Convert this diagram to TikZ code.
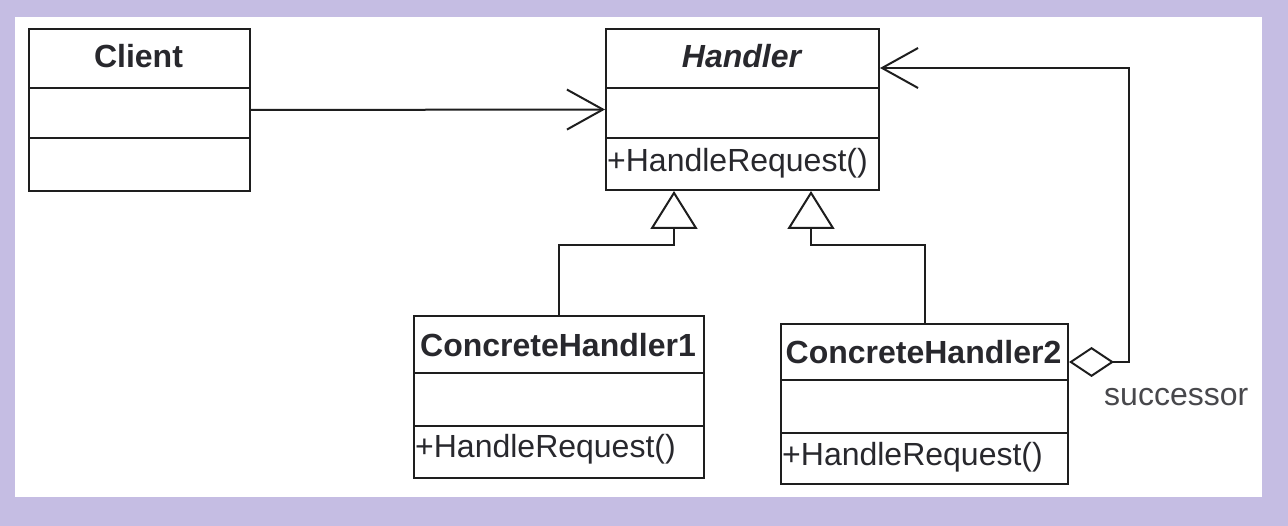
\documentclass[tikz,border=0pt]{standalone}
\usepackage{fontspec}
\setmainfont{Liberation Sans}
\usetikzlibrary{arrows.meta}
\definecolor{lav}{RGB}{197,189,227}
\definecolor{ink}{RGB}{30,30,30}
\definecolor{txt}{RGB}{40,40,45}
\tikzset{
  umlbox/.style={draw=ink, line width=2pt, inner sep=0pt, anchor=north west, fill=white},
  divider/.style={draw=ink, line width=2pt},
  title/.style={inner sep=0pt, text=txt, font=\fontsize{32pt}{38pt}\selectfont\bfseries},
  method/.style={inner sep=0pt, anchor=west, text=txt, font=\fontsize{32pt}{38pt}\selectfont},
  conn/.style={draw=ink, line width=2pt},
  assoc/.style={conn, -{Straight Barb[length=36pt, width=40pt, line width=2pt]}},
  inherit/.style={conn, -{Triangle[open, length=38pt, width=47pt, line width=2pt, fill=white]}},
  aggr/.style={conn, {Diamond[open, length=45pt, width=30pt, line width=2pt, fill=white]}-{Straight Barb[length=36pt, width=40pt, line width=2pt]}}
}
\begin{document}
\begin{tikzpicture}[x=1pt, y=-1pt]
\useasboundingbox (0,0) rectangle (1288,526);
\fill[lav] (0,0) rectangle (1288,526);
\fill[white] (15,17) rectangle (1262,497);

% Client
\node[umlbox, minimum width=221pt, minimum height=162pt] (client) at (28,28) {};
\draw[divider] (28,88) -- (249,88);
\draw[divider] (28,138) -- (249,138);
\node[title] (clientT) at (138.5,56) {Client};

% Handler
\node[umlbox, minimum width=273pt, minimum height=161pt] (handler) at (605,28) {};
\draw[divider] (605,88) -- (878,88);
\draw[divider] (605,138) -- (878,138);
\node[title, font=\fontsize{32pt}{38pt}\selectfont\bfseries\itshape] (handlerT) at (741.5,56) {Handler};
\node[method] (handlerM) at (607,163) {+HandleRequest()};

% ConcreteHandler1
\node[umlbox, minimum width=290pt, minimum height=162pt] (ch1) at (413,315) {};
\draw[divider] (413,373) -- (703,373);
\draw[divider] (413,426) -- (703,426);
\node[title] (ch1T) at (558,345) {ConcreteHandler1};
\node[method] (ch1M) at (415,449) {+HandleRequest()};

% ConcreteHandler2
\node[umlbox, minimum width=287pt, minimum height=160pt] (ch2) at (780,323) {};
\draw[divider] (780,380) -- (1067,380);
\draw[divider] (780,433) -- (1067,433);
\node[title] (ch2T) at (923.5,352) {ConcreteHandler2};
\node[method] (ch2M) at (782,457) {+HandleRequest()};

% connectors
\draw[assoc] (client.east) -- (handler.west);
\draw[inherit] (ch1.north) -- ++(0,-70) -| ([xshift=-68.5pt]handler.south);
\draw[inherit] (ch2.north) -- ++(0,-78) -| ([xshift=68.5pt]handler.south);
\draw[aggr] ([yshift=-39pt]ch2.north east) -- ++(60,0) |- ([yshift=-40pt]handler.north east);

\node[method, text=txt!85!white] (succ) at (1104,397) {successor};
\end{tikzpicture}
\end{document}
